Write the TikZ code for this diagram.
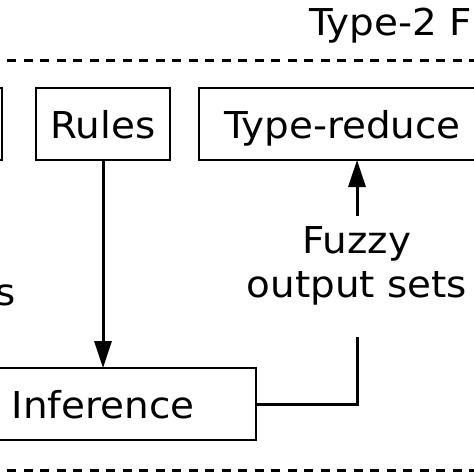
\documentclass[tikz,border=0pt]{standalone}
\usepackage{fontspec}
\setmainfont{DejaVu Sans}[FakeStretch=1.05]
\usetikzlibrary{arrows.meta, positioning}

\begin{document}
\begin{tikzpicture}[
    x=1pt, y=-1pt,
    every node/.style={font=\fontsize{37}{44}\selectfont},
    box/.style={draw, line width=2.5pt, outer sep=0pt, minimum height=72pt,
                text depth=0pt, align=center},
    arr/.style={-{Triangle[length=27pt, width=17pt]}, line width=3pt},
    link/.style={line width=3pt},
    frame/.style={line width=3pt, dash pattern=on 9pt off 7.5pt},
  ]
  \useasboundingbox (0,0) rectangle (474,474);
  \clip (0,0) rectangle (474,474);

  % Title and dashed frame
  \node[anchor=base west, inner sep=0pt] (title) at (309,35) {Type-2 F};
  \draw[frame] (-26,60) -- (500,60);
  \draw[frame] (-26,470) -- (500,470);

  % Blocks
  \node[box, minimum width=134pt] (rules) at (103,124) {Rules};
  \node[box, minimum width=100pt, left=34pt of rules] (fuzz) {};
  \node[box, right=29pt of rules, text width=250pt, inner xsep=25pt,
        align=left] (treduce) {Type-reduce};
  \node[box, minimum width=306pt, below=208pt of rules] (infer) {Inference};

  % Labels
  \node[inner sep=0pt, align=center] (fosets) at (357,266) {Fuzzy\\output sets};
  \node[anchor=base east, inner sep=0pt] (inlbl) at (16,305) {s};

  % Connectors
  \draw[arr] (rules) -- (infer);
  \draw[arr, shorten <=10pt] (fosets.north) -- (fosets.north |- treduce.south);
  \draw[link, shorten >=31pt] (infer.east) -| (fosets.south);
\end{tikzpicture}
\end{document}
